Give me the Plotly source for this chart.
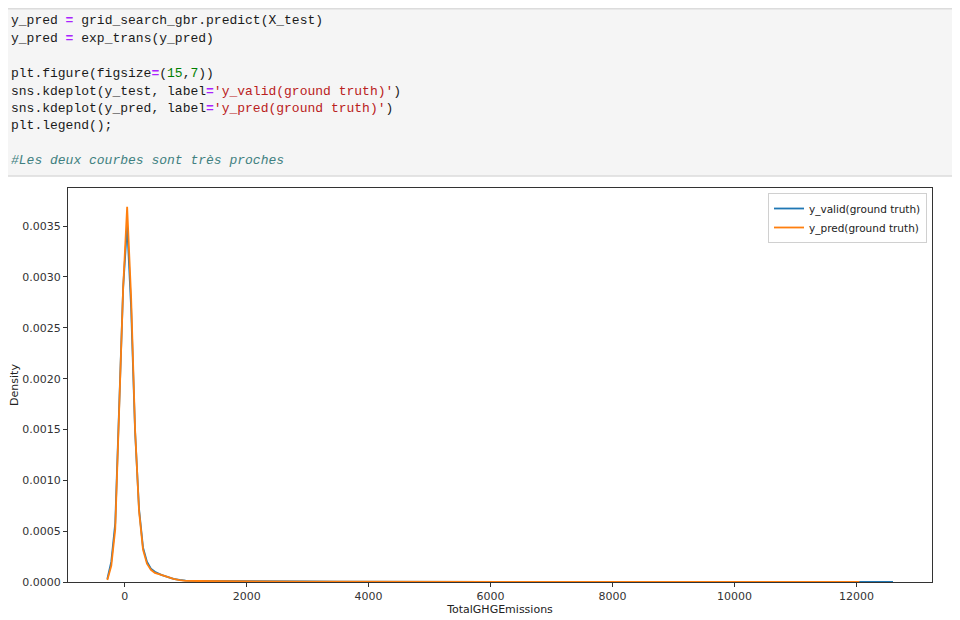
"""Notebook-style KDE comparison of y_test vs y_pred (TotalGHGEmissions)."""

import plotly.graph_objects as go

# KDE curves (x in TotalGHGEmissions, y = density)
valid_x = [-285, -220, -155, -90, -25, 40, 105, 170, 235, 300, 365, 430, 495,
           600, 700, 800, 900, 1000, 1200, 1500, 2000, 2500, 3000, 3500, 4000,
           5000, 6000, 8000, 10000, 12000, 12600]
valid_y = [0.00003, 0.0002, 0.00058, 0.0017, 0.0029, 0.00351, 0.0027, 0.00148,
           0.00072, 0.00034, 0.0002, 0.00013, 0.0001,
           0.00007, 0.00005, 0.00003, 0.00002, 0.000013, 0.00001, 0.000008,
           0.000006, 0.000007, 0.000005, 0.000004, 0.000002,
           0.000001, 0.0000008, 0.0000005, 0.0000003, 0.0000003, 0.0000002]

pred_x = [-285, -220, -155, -90, -25, 40, 105, 170, 235, 300, 365, 430, 495,
          600, 700, 800, 900, 1000, 1200, 1500, 2000, 2500, 3000, 3500, 4000,
          5000, 6000, 8000, 10000, 12050]
pred_y = [0.00002, 0.00016, 0.00052, 0.00165, 0.0029, 0.00369, 0.0028, 0.0015,
          0.0007, 0.00032, 0.00018, 0.00012, 0.00009,
          0.00007, 0.00005, 0.00003, 0.000018, 0.000012, 0.00001, 0.000008,
          0.000005, 0.000006, 0.000004, 0.000003, 0.000002,
          0.000001, 0.0000005, 0.0000003, 0.0000002, 0.0000001]

x_ticks = [0, 2000, 4000, 6000, 8000, 10000, 12000]
y_ticks = [0.0, 0.0005, 0.0010, 0.0015, 0.0020, 0.0025, 0.0030, 0.0035]

BLUE, ORANGE = "#1f77b4", "#ff7f0e"
OP, NUM, STR, CMT = "#aa22ff", "#008000", "#ba2121", "#408080"

# the page body has an 8px margin, so the figure is drawn 8px smaller and
# every window-pixel position below is shifted back by that much
OFF = 8
W, H = 960 - OFF, 620 - OFF
# plot area in window pixels
L, R, T, B = 68, 932, 188, 582


def px_x(px):
    return (px - L) / (R - L)


def px_y(py):
    return (B - py) / (B - T)


def op(s):
    return f"<span style='color:{OP}'><b>{s}</b></span>"


def c(s, color):
    return f"<span style='color:{color}'>{s}</span>"


code_lines = [
    (20, f"y_pred {op('=')} grid_search_gbr.predict(X_test)"),
    (39, f"y_pred {op('=')} exp_trans(y_pred)"),
    (73, f"plt.figure(figsize{op('=')}({c('15', NUM)},{c('7', NUM)}))"),
    (91, f"sns.kdeplot(y_test, label{op('=')}{c(chr(39) + 'y_valid(ground truth)' + chr(39), STR)})"),
    (108, f"sns.kdeplot(y_pred, label{op('=')}{c(chr(39) + 'y_pred(ground truth)' + chr(39), STR)})"),
    (125, "plt.legend();"),
    (160, f"<i>{c('#Les deux courbes sont très proches', CMT)}</i>"),
]

fig = go.Figure()
fig.add_trace(go.Scatter(x=valid_x, y=valid_y, mode="lines", name="y_valid(ground truth)",
                         line=dict(color=BLUE, width=1.8)))
fig.add_trace(go.Scatter(x=pred_x, y=pred_y, mode="lines", name="y_pred(ground truth)",
                         line=dict(color=ORANGE, width=1.8)))

# the code cell above the output
fig.add_shape(type="rect", xref="paper", yref="paper",
              x0=px_x(-2), x1=px_x(962), y0=px_y(176), y1=px_y(OFF + 0.8),
              fillcolor="#f5f5f5", line=dict(color="#dcdcdc", width=1.5), layer="below")
for py, html in code_lines:
    fig.add_annotation(xref="paper", yref="paper", x=px_x(OFF + 1), y=px_y(py),
                       xanchor="left", yanchor="middle", showarrow=False, text=html,
                       font=dict(family="Liberation Mono, DejaVu Sans Mono, monospace",
                                 size=13, color="#1a1a1a"))

axis_common = dict(showline=True, mirror=True, linecolor="#333333", linewidth=1,
                   ticks="outside", ticklen=4, tickcolor="#333333", showgrid=False,
                   zeroline=False, automargin=False,
                   tickfont=dict(size=11, color="#333333"))
fig.update_xaxes(range=[-930, 13240], tickvals=x_ticks,
                 ticktext=[str(v) for v in x_ticks],
                 title=dict(text="TotalGHGEmissions", standoff=3,
                            font=dict(size=11, color="#222222")),
                 **axis_common)
fig.update_yaxes(range=[0, 0.003875], tickvals=y_ticks,
                 ticktext=[f"{v:.4f}" for v in y_ticks],
                 title=dict(text="Density", standoff=2,
                            font=dict(size=11, color="#222222")),
                 **axis_common)

fig.update_layout(
    width=W, height=H,
    margin=dict(l=L - OFF, r=960 - R, t=T - OFF, b=620 - B),
    paper_bgcolor="white", plot_bgcolor="white",
    font=dict(family="DejaVu Sans, sans-serif"),
    showlegend=True,
    legend=dict(x=px_x(927), y=px_y(193), xanchor="right", yanchor="top",
                bgcolor="rgba(255,255,255,0.8)", bordercolor="#d0d0d0", borderwidth=1,
                font=dict(size=10.5, color="#222222"), tracegroupgap=0, itemwidth=30),
)

fig.write_html("out.html")
